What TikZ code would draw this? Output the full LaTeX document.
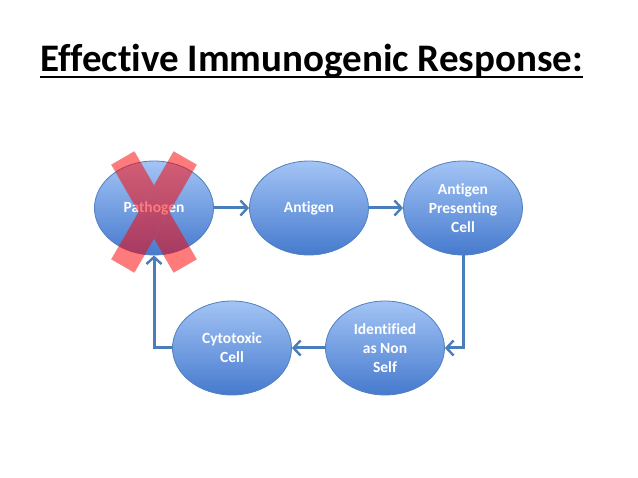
\documentclass[tikz,border=0pt]{standalone}
\usepackage{fontspec}
\setmainfont{Carlito}[Ligatures=NoCommon]
\usetikzlibrary{shapes.geometric,arrows.meta,calc}
\definecolor{topblue}{RGB}{163,196,245}
\definecolor{botblue}{RGB}{70,122,206}
\definecolor{edgeblue}{RGB}{80,128,190}
\definecolor{arrowblue}{RGB}{74,126,187}
\definecolor{xred}{RGB}{255,0,0}
\definecolor{xedge}{RGB}{230,20,20}
\tikzset{
  cell/.style={ellipse, draw=edgeblue, line width=0.8pt, top color=topblue, bottom color=botblue,
    minimum width=119pt, minimum height=94pt, inner sep=0pt, text=white, align=center,
    font=\fontsize{15.5}{19}\selectfont\bfseries},
  flow/.style={draw=arrowblue, line width=3pt, -{Straight Barb[length=7pt,width=15pt,line width=2.4pt]}},
  xbar/.style={fill=xred, draw=xedge, line width=0.8pt,
    minimum width=26pt, minimum height=124pt, inner sep=0pt, rectangle}
}
\begin{document}
\begin{tikzpicture}[x=1pt,y=-1pt]
\useasboundingbox (0,0) rectangle (638,478);
\node[anchor=base west, inner sep=0pt, font=\fontsize{39}{47}\selectfont\bfseries] (title) at (40,72) {Effective Immunogenic Response:};
\draw[line width=2.6pt] ($(title.base west)+(0,5)$) coordinate (ul1) -- ($(title.base east)+(0,5)$) coordinate (ul2);
\node[cell] (path) at (154,208) {Pathogen};
\node[cell] (ant) at (309,208) {Antigen};
\node[cell] (apc) at (463,208) {Antigen\\Presenting\\Cell};
\node[cell] (ident) at (385,348) {Identified\\as Non\\Self};
\node[cell] (cyto) at (232,348) {Cytotoxic\\Cell};
\draw[flow] (path) -- (ant);
\draw[flow] (ant) -- (apc);
\draw[flow] (apc.south) |- (ident.east);
\draw[flow] (ident) -- (cyto);
\draw[flow] (cyto.west) -| (path.south);
\begin{scope}[transparency group, opacity=0.52]
\node[xbar, rotate=30] (xa) at (154,212) {};
\node[xbar, rotate=-30] (xb) at (154,212) {};
\end{scope}
\end{tikzpicture}
\end{document}
